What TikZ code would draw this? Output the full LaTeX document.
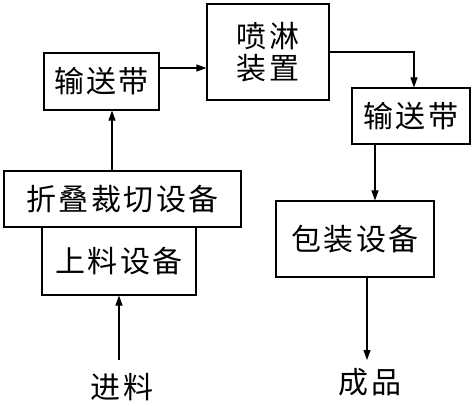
\documentclass[tikz,border=0pt]{standalone}
\usepackage{fontspec}
\newfontfamily\cjk[LetterSpace=8]{Noto Sans CJK SC}
\usetikzlibrary{arrows.meta}
\begin{document}
\begin{tikzpicture}[x=1pt,y=-1pt,
  box/.style={draw, line width=1.1pt, inner sep=0pt, font=\cjk\fontsize{30pt}{32pt}\selectfont, align=center},
  lbl/.style={inner sep=0pt, font=\cjk\fontsize{30pt}{32pt}\selectfont},
  arr/.style={line width=1.1pt, -{Triangle[length=10pt,width=7pt]}}]
\useasboundingbox (0,0) rectangle (474,405);
\node[box, minimum width=154pt, minimum height=68pt] (feed) at (119,261) {上料设备};
\node[box, minimum width=237pt, minimum height=56pt, fill=white] (fold) at (122.5,199) {折叠裁切设备};
\node[box, minimum width=115pt, minimum height=57pt] (belt1) at (101.5,81.5) {输送带};
\node[box, minimum width=122pt, minimum height=96pt] (spray) at (268,52) {喷淋\\装置};
\node[box, minimum width=118pt, minimum height=56pt] (belt2) at (411,116) {输送带};
\node[box, minimum width=158pt, minimum height=76pt] (pack) at (355,239) {包装设备};
\node[lbl] (in) at (122,387) {进料};
\node[lbl] (out) at (370,382) {成品};
\coordinate (inTop) at (119,360);
\coordinate (outEnd) at (367,360);
\coordinate (c1) at (112,0);
\coordinate (c2) at (0,68);
\coordinate (c3) at (0,52);
\coordinate (c4) at (414,0);
\coordinate (c5) at (375,0);
\draw[arr] (inTop) -- (inTop |- feed.south);
\draw[arr] (fold.north -| c1) -- (belt1.south -| c1);
\draw[arr] (belt1.east |- c2) -- (spray.west |- c2);
\draw[arr] (spray.east |- c3) -| (belt2.north -| c4);
\draw[arr] (belt2.south -| c5) -- (pack.north -| c5);
\draw[arr] (pack.south -| outEnd) -- (outEnd);
\end{tikzpicture}
\end{document}
